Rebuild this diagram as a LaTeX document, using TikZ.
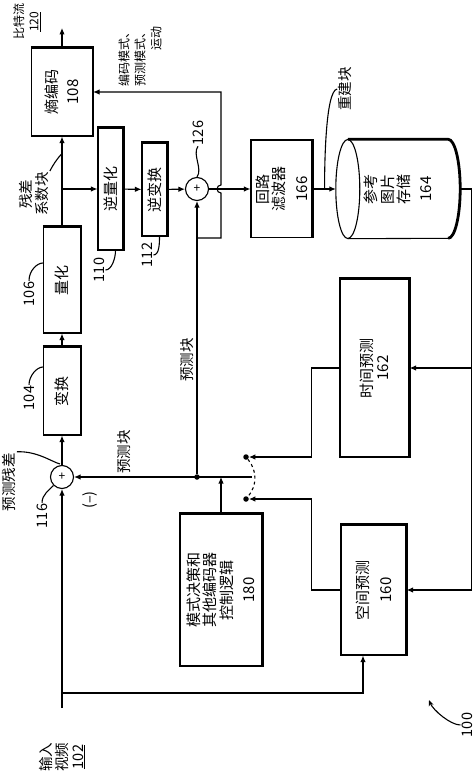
\documentclass[tikz,border=0pt]{standalone}
\usepackage{fontspec}
\setmainfont{Noto Sans CJK SC}
\usepackage{tikz}
\usetikzlibrary{positioning, calc, arrows.meta}

\tikzset{
  blk/.style={draw, line width=1.1pt, inner sep=0pt},
  shd/.style={line width=2.8pt},
  txt/.style={rotate=90, align=center, inner sep=0pt, font=\fontsize{15}{16.5}\selectfont},
  lbl/.style={rotate=90, align=center, inner sep=1pt, font=\fontsize{14.5}{16}\selectfont},
  sum/.style={draw, circle, line width=1.1pt, minimum size=23pt, inner sep=0pt, font=\fontsize{12}{12}\selectfont},
  dot/.style={circle, fill, inner sep=0pt, minimum size=5.5pt},
  wire/.style={line width=1.1pt},
  arr/.style={wire, -{Latex[length=6.5pt,width=5.5pt]}},
}

\begin{document}
\begin{tikzpicture}[x=1pt, y=-1pt]

      \useasboundingbox (0,0) rectangle (474,773);

      % BLOCKS

      \node[blk, minimum width=61pt, minimum height=88pt, label={[txt]center:{熵编码\\[5pt]108}}] (b108) at (62,92) {};
      \node[blk, minimum width=37pt, minimum height=106pt, label={[txt]center:{量化}}] (b106) at (62,280) {};
      \node[blk, minimum width=37pt, minimum height=88pt, label={[txt]center:{变换}}] (b104) at (62,391) {};
      \node[blk, minimum width=25pt, minimum height=122pt, label={[txt]center:{逆量化}}] (b110) at (110.5,189) {};
      \node[blk, minimum width=25pt, minimum height=93pt, label={[txt]center:{逆变换}}] (b112) at (154.5,189.5) {};
      \node[blk, minimum width=61pt, minimum height=97pt, label={[txt]center:{回路\\滤波器\\[6pt]166}}] (b166) at (281.5,189) {};
      \node[blk, minimum width=69pt, minimum height=178pt, label={[txt]center:{时间预测\\162}}] (b162) at (374.5,368) {};
      \node[blk, minimum width=65pt, minimum height=130pt, label={[txt]center:{空间预测\\[6pt]160}}] (b160) at (373.5,590) {};
      \node[blk, minimum width=82pt, minimum height=152pt, label={[txt]center:{模式决策和\\其他编码器\\控制逻辑\\[6pt]180}}] (b180) at (221,590) {};
      \node[minimum width=124pt, minimum height=99pt, inner sep=0pt, label={[txt]center:{参考\\图片\\存储\\[5pt]164}}] (c164) at (398,189) {};

      \node[sum] (a116) at (62,477) {+};
      \node[sum] (a126) at (197,189) {+};

      \node[dot] (s1) at (246,457) {};
      \node[dot] (s2) at (246,499) {};
      \node[dot] (jp) at (197,477) {};

      \foreach \b in {b108,b106,b104,b110,b112,b166,b162,b160,b180}
        \draw[shd] (\b.north west) -- (\b.north east) -- (\b.south east);

      % reference store outline
      \draw[wire] ($(c164.west)+(12,0)$) ellipse [x radius=12pt, y radius=49.5pt];
      \draw[wire] ($(c164.north west)+(12,0)$) -- ($(c164.north east)+(-12,0)$)
        arc[start angle=90, end angle=-90, x radius=12pt, y radius=49.5pt] -- ($(c164.south west)+(12,0)$);
      \draw[shd] ($(c164.north west)+(12,0)$) -- ($(c164.north east)+(-12,0)$)
        arc[start angle=90, end angle=-90, x radius=12pt, y radius=49.5pt];

      % LABELS

      \node[lbl, font=\fontsize{12}{15}\selectfont] (l120) at (27,22) {比特流\\\underline{120}};
      \node[lbl, align=right, font=\fontsize{12}{16}\selectfont] (lmode) at (140,57) {编码模式、\\预测模式、\\运动};
      \node[lbl] (lres) at (34,194) {残差\\系数块};
      \node[lbl] (lpr) at (9,482) {预测残差};
      \node[lbl] (l116) at (42,516) {116};
      \node[lbl] (l106) at (29,294) {106};
      \node[lbl] (l104) at (29,398) {104};
      \node[lbl] (l110) at (99,270) {110};
      \node[lbl] (l112) at (147,255) {112};
      \node[lbl] (l126) at (198,133) {126};
      \node[lbl] (lrec) at (345,89) {重建块};
      \node[lbl] (lpb1) at (124,452) {预测块};
      \node[lbl] (lpb2) at (187,360) {预测块};
      \node[lbl] (lneg) at (90,500) {(--)};
      \node[lbl] (l102) at (62,757) {输入\\视频\\\underline{102}};
      \node[lbl] (l100) at (467,725) {100};

      % ARCS

      \coordinate (vin) at (62,708);
      \coordinate (vj) at (62,693);
      \coordinate (bs) at (62,28);
      \coordinate (rj) at (62,189);
      \coordinate (rr) at ($(c164.east)+(11,0)$);
      \coordinate (sw) at (252,477);
      \coordinate (sj) at (197,238);
      \coordinate (p100) at (429,700);

      \draw[arr] (vin) -- (a116);
      \draw[arr] (vj) -| ([xshift=-10.5pt]b160.south);
      \draw[arr] (a116) -- (b104);
      \draw[arr] (b104) -- (b106);
      \draw[arr] (b106) -- (b108);
      \draw[arr] (b108) -- (bs);

      \draw[arr] (rj) -- (b110);
      \draw[arr] (b110) -- (b112);
      \draw[arr] (b112) -- (a126);
      \draw[arr] (a126) -- (b166);
      \draw[arr] (b166.east) -- (c164.west);

      \draw[arr] (c164.east) -- (rr) |- (b160.east);
      \draw[arr] (rr |- b162.east) -- (b162.east);

      \draw[arr] (b162.west) -- ++(-28,0) |- (s1);
      \draw[arr] (b160.west) -- ++(-29,0) |- (s2);
      \draw[wire, dashed] (s1) to[bend left=40] (s2);

      \draw[arr] (sw) -- (a116);
      \draw[arr] (b180) -- (b180 |- sw);
      \draw[arr] (jp) -- (a126);
      \draw[arr] (sj) -- (221,238) -- (221,193) arc[start angle=-90, end angle=-270, radius=4pt]
        -- (221,92) -- (b108.east);

      % leaders
      \draw[wire] (lres.south east) .. controls +(4,-8) and +(-3,3) .. ($(b108.south)+(0,17)$);
      \draw[wire] (lpr.south east) .. controls +(20,-1) and +(-8,-2) .. ($(a116.north)+(-2,-1)$);
      \draw[wire] (l116.east) .. controls +(0,-8) and +(-4,4) .. (a116.south west);
      \draw[wire] (l106.east) .. controls +(0,-10) and +(-6,0) .. ($(b106.west)+(0,-17)$);
      \draw[wire] (l104.east) .. controls +(0,-9) and +(-6,0) .. ($(b104.west)+(0,-24)$);
      \draw[wire] (l110.south) .. controls +(6,0) and +(0,8) .. ($(b110.south)+(5,0)$);
      \draw[wire] (l112.south) .. controls +(6,0) and +(0,6) .. ($(b112.south)+(5,0)$);
      \draw[wire] (l126.west) .. controls +(-6,8) and +(6,-8) .. (a126.north);
      \draw[wire] (lrec.north) .. controls +(-12,2) and +(0,-20) .. ($(b166.east)+(12,0)$);
      \draw[wire, -{Stealth[length=6pt,width=5pt]}] (l100.north) .. controls +(-10,0) and +(4,10) .. (p100);

\end{tikzpicture}
\end{document}
